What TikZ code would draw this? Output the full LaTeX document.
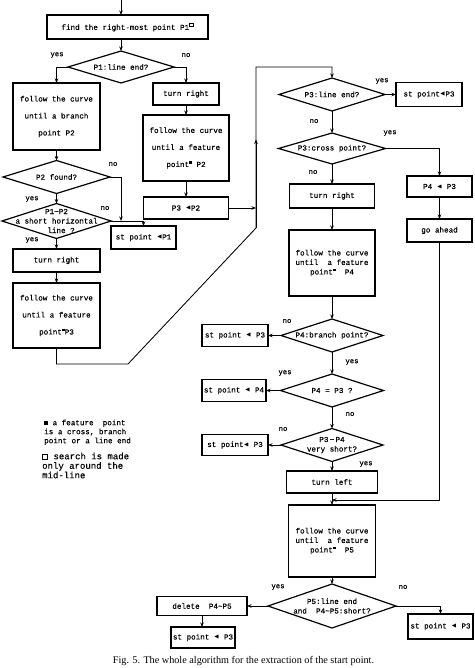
\documentclass[tikz,border=0pt]{standalone}
\usepackage{fontspec}
\usepackage{amssymb}
\usepackage{graphicx}
\setmainfont{Liberation Serif}
\newfontfamily\twfont{Liberation Mono}[FakeBold=0.3]
\usetikzlibrary{arrows.meta,shapes.geometric,calc}
\newcommand\fsq{\raisebox{3pt}{\rule{2.8pt}{2.8pt}}}
\newcommand\osq{\raisebox{3.5pt}{\setlength\fboxsep{0pt}\setlength\fboxrule{0.6pt}\fbox{\rule{0pt}{3.2pt}\hspace{3.2pt}}}}
\newcommand\larr{\raisebox{0.6pt}{\scalebox{0.8}{$\blacktriangleleft$}}}
\begin{document}
\begin{tikzpicture}[x=1pt,y=-1pt,
  box/.style={draw, rectangle, line width=1.1pt, inner sep=1pt, outer sep=0pt,
    align=center, font=\twfont\fontsize{7.6}{9.5}\selectfont},
  wide/.style={font=\twfont\fontsize{7.6}{17}\selectfont},
  dia/.style={draw, diamond, line width=1.2pt, inner sep=0pt, outer sep=0pt},
  dtext/.style={align=center, inner sep=0pt, font=\twfont\fontsize{7.6}{9.5}\selectfont},
  lab/.style={inner sep=0pt, font=\twfont\fontsize{7.3}{9}\selectfont},
  arr/.style={line width=0.85pt, -{Stealth[length=4.5pt,width=3.5pt]}},
  ln/.style={line width=0.85pt}]
\useasboundingbox (0,0) rectangle (474,668);

% ---------- left part ----------
\coordinate (top) at (121,0);
\node[box, minimum width=161pt, minimum height=24pt] (find) at (127.5,27) {find the right-most point P1\osq};
\draw[arr] (top) -- (top |- find.north);

\node[dia, minimum width=106pt, minimum height=32pt] (d1) at (121,67) {};
\node[dtext] (t1) at (d1) {P1:line end?};
\draw[arr] (find.south -| d1.north) -- (d1.north);
\node[lab] (y1) at (57,55) {yes};
\node[lab] (n1) at (186,55) {no};

\node[box, wide, minimum width=87pt, minimum height=67pt] (b1) at (56.5,116.5) {follow the curve\\until a branch\\point P2};
\draw[arr] (d1.west) -| (b1.north);

\node[box, minimum width=66pt, minimum height=22pt] (tr1) at (186,94) {turn right};
\draw[arr] (d1.east) -| (tr1.north);

\node[box, wide, minimum width=86pt, minimum height=66pt] (b2) at (186,148) {follow the curve\\until a feature\\point\fsq\ P2};
\draw[arr] (tr1.south) -- (b2.north);

\node[box, minimum width=85pt, minimum height=22pt] (p32) at (186,208) {P3 \larr P2};
\draw[arr] (b2.south) -- (p32.north);

\node[dia, minimum width=107pt, minimum height=33pt] (d2) at (56.5,177) {};
\node[dtext] (t2) at (d2) {P2 found?};
\draw[arr] (b1.south) -- (d2.north);
\node[lab] (n2) at (113,164) {no};
\node[lab] (y2) at (32,199) {yes};

\node[dia, minimum width=109pt, minimum height=35pt] (d2b) at (56.5,221) {};
\node[dtext] (t2b) at (d2b) {P1\textasciitilde P2\\a short horizontal\\\ \ line ?};
\draw[arr] (d2.south) -- (d2b.north);
\node[lab] (n2b) at (105,208) {no};

\node[box, minimum width=65pt, minimum height=23pt] (st1) at (143.5,237.5) {st point \larr P1};
\draw[arr] (d2b.east) -| (st1.north);
\coordinate (j1) at (121,221);
\draw[arr] (d2.east) -| (j1);

\node[lab] (y2b) at (32,240) {yes};
\node[box, minimum width=87pt, minimum height=23pt] (tr2) at (56.5,260.5) {turn right};
\draw[arr] (d2b.south) -- (tr2.north);

\node[box, wide, minimum width=87pt, minimum height=65pt] (b3) at (56.5,315.5) {follow the curve\\until a feature\\point\fsq P3};
\draw[arr] (tr2.south) -- (b3.north);

% ---------- right column ----------
\node[dia, minimum width=106pt, minimum height=33pt] (d3) at (332,94.5) {};
\node[dtext] (t3) at (d3) {P3:line end?};
\coordinate (l2) at (128,364);
\coordinate (l3) at (256,228);
\coordinate (l4) at (256,67);
\draw[arr] (b3.south) |- (l2) -- (l3) -- (l4) -| (d3.north);
\draw[arr] (l3) -- ($(l3)!0.55!(l4)$);
\draw[arr] (p32.east) -- (p32.east -| l3);

\node[lab] (y3) at (382,81) {yes};
\node[box, minimum width=66pt, minimum height=24pt] (st2) at (429,94.5) {st point\larr P3};
\draw[arr] (d3.east) -- (st2.west);
\node[lab] (n3) at (314,121) {no};

\node[dia, minimum width=107pt, minimum height=31pt] (d4) at (332,148.5) {};
\node[dtext] (t4) at (d4) {P3:cross point?};
\draw[arr] (d3.south) -- (d4.north);
\node[lab] (y4) at (390,133) {yes};
\node[lab] (n4) at (313,172) {no};

\node[box, minimum width=65pt, minimum height=21pt] (p43) at (439.5,186.5) {P4 \larr\ P3};
\draw[arr] (d4.east) -| (p43.north);
\node[box, minimum width=65pt, minimum height=23pt] (ga) at (439.5,230.5) {go ahead};
\draw[arr] (p43.south) -- (ga.north);

\node[box, minimum width=85pt, minimum height=24pt] (tr3) at (332,196) {turn right};
\draw[arr] (d4.south) -- (tr3.north);

\node[box, minimum width=86pt, minimum height=66pt] (b4) at (332,263) {follow the curve\\until\ \ a feature\\point\fsq\ \ P4};
\draw[arr] (tr3.south) -- (b4.north);

\node[dia, minimum width=102pt, minimum height=33pt] (d5) at (332,335.5) {};
\node[dtext] (t5) at (d5) {P4:branch point?};
\draw[arr] (b4.south) -- (d5.north);
\node[lab] (n5) at (287,321) {no};
\node[box, minimum width=66pt, minimum height=22pt] (st3) at (235,335.5) {st point \larr\ P3};
\draw[arr] (d5.west) -- (st3.east);
\node[lab] (y5) at (352,362) {yes};

\node[dia, minimum width=103pt, minimum height=33pt] (d6) at (332,390.5) {};
\node[dtext] (t6) at (d6) {P4 = P3 ?};
\draw[arr] (d5.south) -- (d6.north);
\node[lab] (y6) at (285,373) {yes};
\node[box, minimum width=64pt, minimum height=22pt] (st4) at (234,390.5) {st point \larr\ P4};
\draw[arr] (d6.west) -- (st4.east);
\node[lab] (n6) at (350,414) {no};

\node[dia, minimum width=102pt, minimum height=33pt] (d7) at (332,445) {};
\node[dtext] (t7) at (d7) {P3\,\textasciitilde\,P4\\very short?};
\draw[arr] (d6.south) -- (d7.north);
\node[lab] (n7) at (283,429) {no};
\node[box, minimum width=66pt, minimum height=21pt] (st5) at (235,445) {st point\larr\ P3};
\draw[arr] (d7.west) -- (st5.east);
\node[lab] (y7) at (366,464) {yes};

\node[box, minimum width=91pt, minimum height=22pt] (tl) at (332,482) {turn left};
\draw[arr] (d7.south) -- (tl.north);

\node[box, minimum width=87pt, minimum height=72pt] (b5) at (332,541) {follow the curve\\until\ \ a feature\\point\fsq\ \ P5};
\draw[arr] (tl.south) -- (b5.north);
\coordinate (j2) at (332,500);
\draw[arr] (ga.south) |- (j2);

\node[dia, minimum width=128pt, minimum height=44pt] (d8) at (332,606) {};
\node[dtext] (t8) at (d8) {P5:line end\\and\ \ P4\textasciitilde P5:short?};
\draw[arr] (b5.south) -- (d8.north);
\node[lab] (y8) at (278,587) {yes};
\node[lab] (n8) at (403,587) {no};

\node[box, minimum width=90pt, minimum height=19pt] (del) at (202,606) {delete\ \ P4\textasciitilde P5};
\draw[arr] (d8.west) -- (del.east);
\node[box, minimum width=64pt, minimum height=21pt] (st6) at (203,637.5) {st point \larr\ P3};
\draw[arr] (del.south) -- (del.south |- st6.north);
\node[box, minimum width=65pt, minimum height=25pt] (st7) at (440.5,626.5) {st point \larr\ P3};
\draw[arr] (d8.east) -| (st7.north);

% ---------- legend and caption ----------
\node[anchor=north west, inner sep=0pt, align=left, font=\twfont\fontsize{7.6}{9}\selectfont] (leg1) at (44,419.5)
  {\rule{3.8pt}{3.8pt} a feature\ \ point\\is a cross, branch\\point or a line end};
\node[anchor=north west, inner sep=0pt, align=left, font=\twfont\fontsize{9}{9.5}\selectfont] (leg2) at (42,452.5)
  {\raisebox{0.5pt}{\setlength\fboxsep{0pt}\setlength\fboxrule{0.7pt}\fbox{\rule{0pt}{4.5pt}\hspace{4.5pt}}} search is made\\only around the\\mid-line};
\node[inner sep=0pt, font=\fontsize{10.2}{12}\selectfont] (cap) at (243.5,661) {Fig. 5. The whole algorithm for the extraction of the start point.};
\end{tikzpicture}
\end{document}
